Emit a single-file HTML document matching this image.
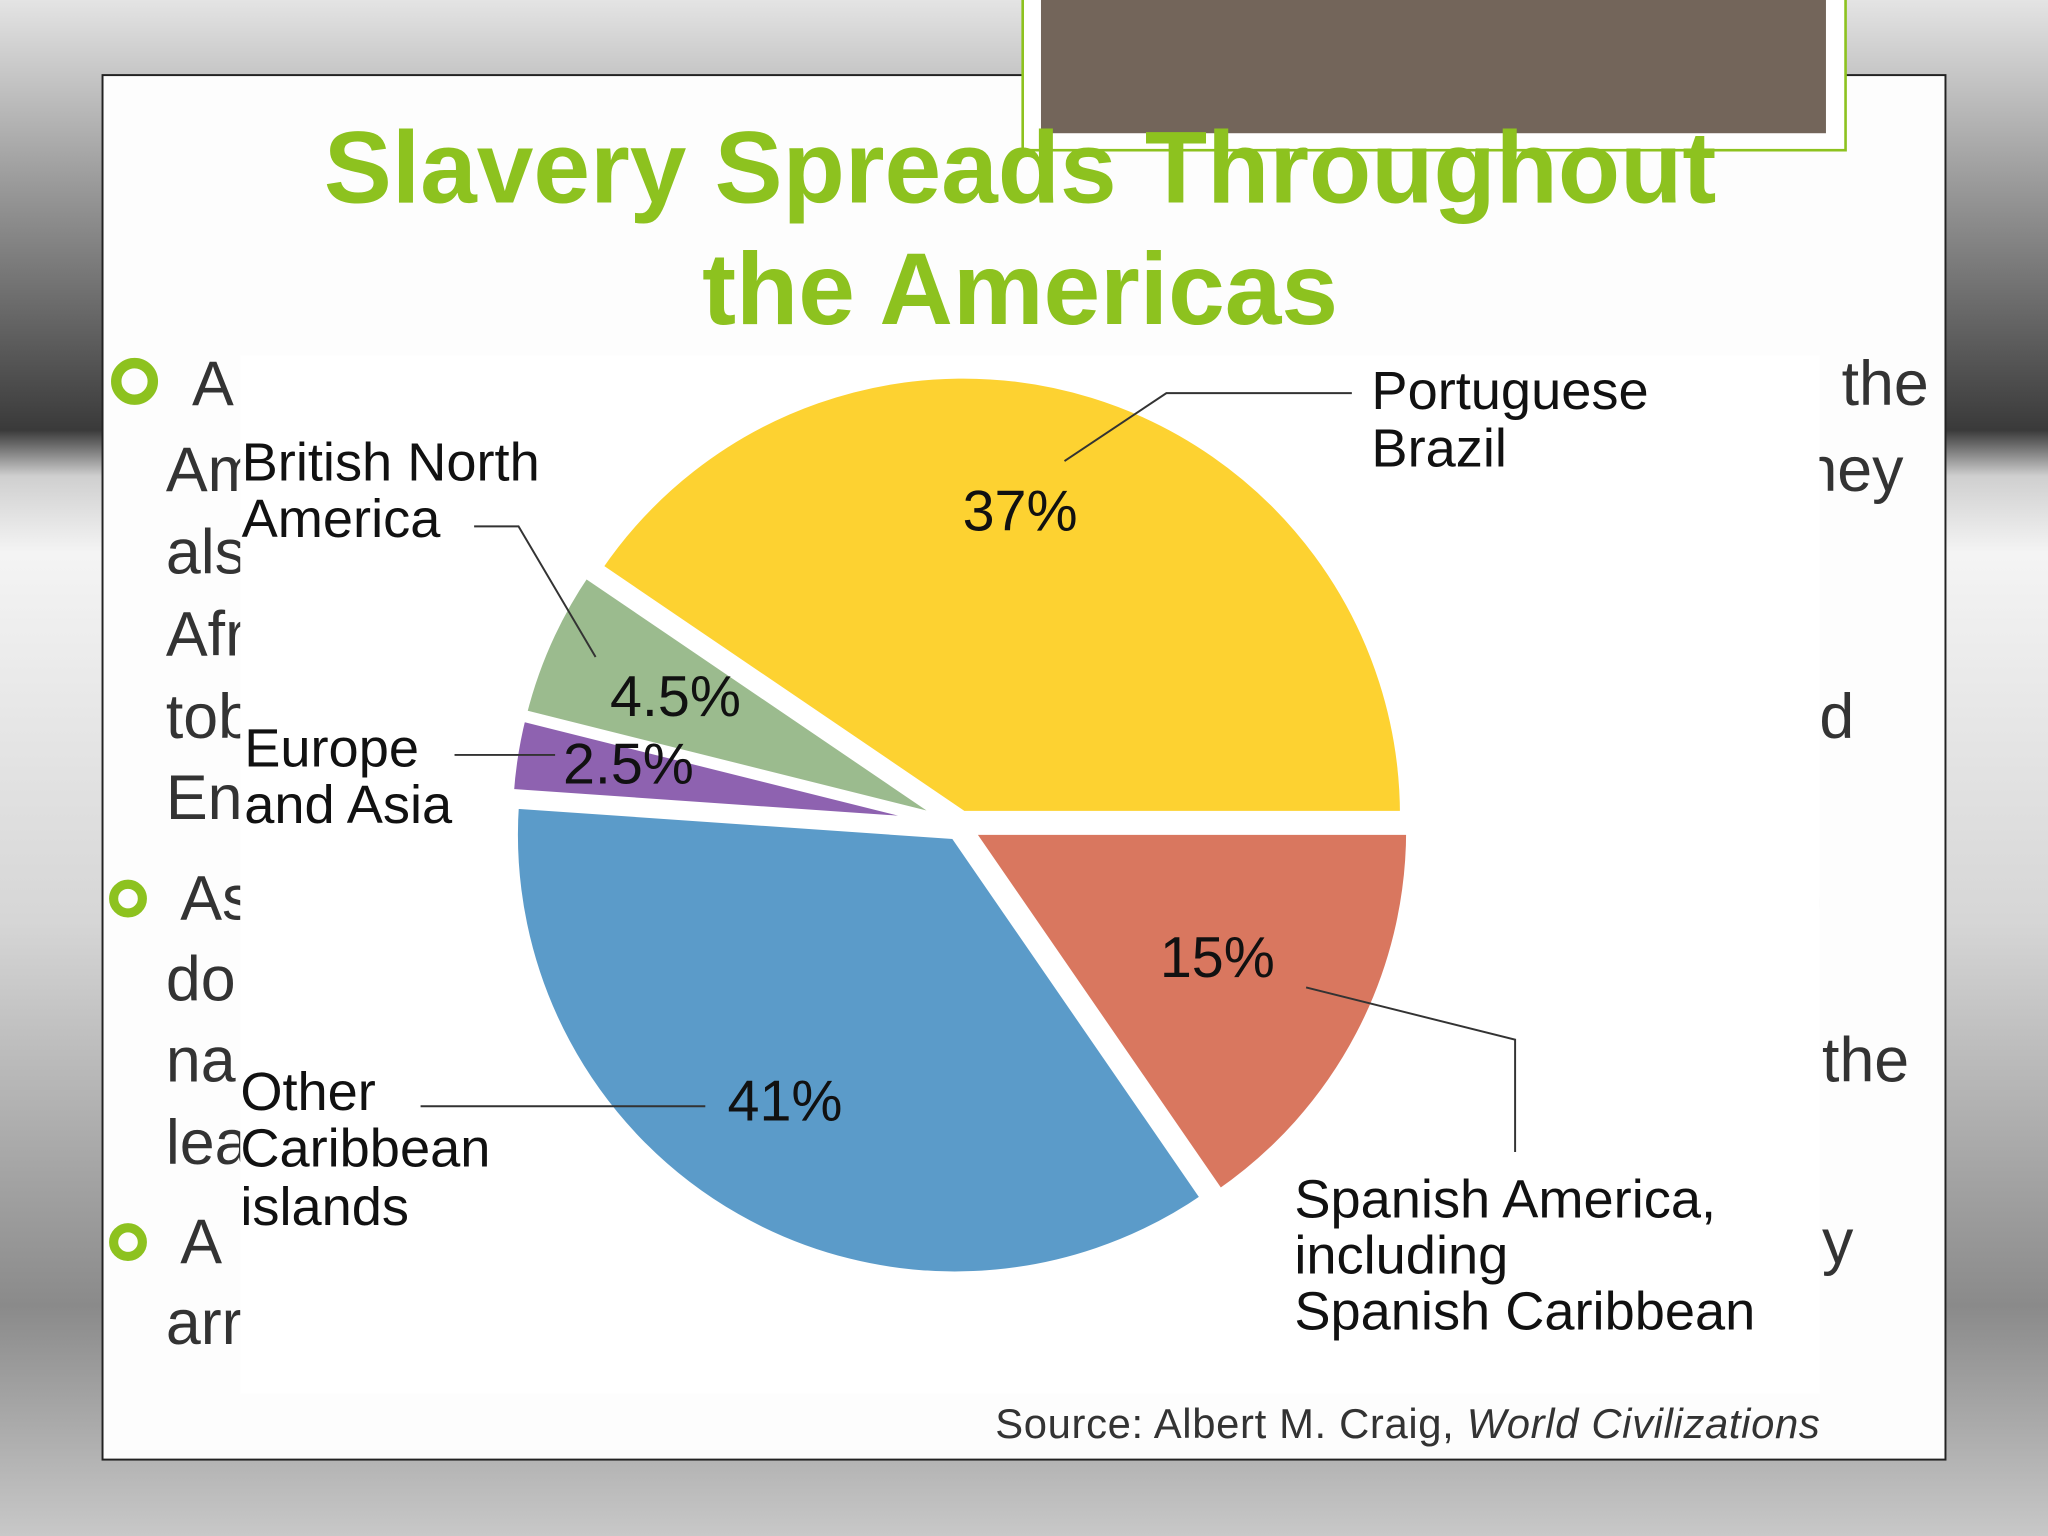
<!DOCTYPE html>
<html><head><meta charset="utf-8"><style>
html,body{margin:0;padding:0;width:2048px;height:1536px;overflow:hidden;}
svg{display:block;font-family:"Liberation Sans",sans-serif;}
</style></head><body>
<svg width="2048" height="1536" viewBox="0 0 1568 1176" xmlns="http://www.w3.org/2000/svg">
<defs>
<linearGradient id="bg" x1="0" y1="0" x2="0" y2="1">
<stop offset="0" stop-color="#e4e4e4"/><stop offset="0.12" stop-color="#9a9a9a"/>
<stop offset="0.28" stop-color="#3a3a3a"/><stop offset="0.31" stop-color="#cfcfcf"/>
<stop offset="0.36" stop-color="#f4f4f4"/><stop offset="0.6" stop-color="#d6d6d6"/>
<stop offset="0.85" stop-color="#8a8a8a"/><stop offset="1" stop-color="#c8c8c8"/>
</linearGradient>
<clipPath id="leftclip"><rect x="80" y="250" width="104" height="820"/></clipPath>
<clipPath id="rightclip"><rect x="1393" y="250" width="96" height="820"/></clipPath>
</defs>
<rect width="1568" height="1176" fill="url(#bg)"/>
<rect x="78.5" y="57.5" width="1411" height="1060" fill="#fdfdfd" stroke="#222" stroke-width="1.5"/>
<rect x="783" y="-5" width="630" height="120" fill="#fff" stroke="#8dc21f" stroke-width="2"/>
<rect x="797" y="0" width="601" height="102" fill="#73655a"/>
<g fill="#8dc21f" font-weight="bold" font-size="78" text-anchor="middle">
<text x="781" y="155">Slavery Spreads Throughout</text>
<text x="781" y="248">the Americas</text>
</g>
<g clip-path="url(#leftclip)" font-size="48" fill="#333">
<circle cx="103" cy="292" r="14" fill="none" stroke="#8dc21f" stroke-width="8"/>
<circle cx="98" cy="688" r="11" fill="none" stroke="#8dc21f" stroke-width="7"/>
<circle cx="98" cy="951" r="11" fill="none" stroke="#8dc21f" stroke-width="7"/>
<text x="147" y="310">A</text><text x="127" y="376">Am</text><text x="127" y="439">als</text>
<text x="127" y="502">Afr</text><text x="127" y="565">tob</text><text x="127" y="627">Eng</text>
<text x="138" y="704">As</text><text x="127" y="766">do</text><text x="127" y="828">na</text>
<text x="127" y="891">lea</text><text x="138" y="967">A</text><text x="127" y="1029">arr</text>
</g>
<g clip-path="url(#rightclip)" font-size="48" fill="#333">
<text x="1410" y="310">the</text><text x="1380" y="376">hey</text><text x="1393" y="565">d</text>
<text x="1380" y="704">)</text><text x="1395" y="828">the</text><text x="1395" y="967">y</text>
</g>
<rect x="184" y="272" width="1209" height="795" fill="#fff"/>
<g id="pie"></g>
<g fill="none" stroke="#333" stroke-width="1.5">
<polyline points="815,353 893,301 1035,301"/>
<polyline points="363,403 397,403 456,503"/>
<polyline points="348,578 425,578"/>
<polyline points="322,847 540,847"/>
<polyline points="1000,756 1160,796 1160,882"/>
</g>
<g font-size="44" fill="#111">
<text id="lbl0" x="888" y="748"></text>
<text id="lbl1" x="557" y="858"></text>
<text id="lbl2" x="431" y="600"></text>
<text id="lbl3" x="467" y="548"></text>
<text id="lbl4" x="737" y="406"></text>
</g>
<g font-size="41.5" fill="#111">
<text x="1050" y="313">Portuguese</text><text x="1050" y="357">Brazil</text>
<text x="185" y="368">British North</text><text x="185" y="411">America</text>
<text x="187" y="587">Europe</text><text x="187" y="630">and Asia</text>
<text x="184" y="850">Other</text><text x="184" y="893">Caribbean</text><text x="184" y="938">islands</text>
<text x="991" y="932">Spanish America,</text><text x="991" y="975">including</text><text x="991" y="1018">Spanish Caribbean</text>
</g>
<text x="762" y="1101" font-size="32" fill="#333" letter-spacing="0.5">Source: Albert M. Craig, <tspan font-style="italic">World Civilizations</tspan></text>
</svg>
<script>
const categories = ["Spanish America", "Other Caribbean islands", "Europe and Asia", "British North America", "Portuguese Brazil"];
const values = [15.4, 35.7, 2.8, 5.6, 40.5];
const pctLabels = ["15%", "41%", "2.5%", "4.5%", "37%"];
const colors = ["#d9775f", "#5b9bc9", "#8e62b0", "#9bbb8e", "#fdd231"];
const cx = 735, cy = 632, R = 338, explode = 8;
const g = document.getElementById('pie');
const total = values.reduce((a,b)=>a+b,0);
let a0 = 0;
values.forEach((v,i)=>{
  const a1 = a0 + v/total*2*Math.PI;
  const mid = (a0+a1)/2;
  const ox = cx + explode*Math.cos(mid), oy = cy + explode*Math.sin(mid);
  const x0 = ox + R*Math.cos(a0), y0 = oy + R*Math.sin(a0);
  const x1 = ox + R*Math.cos(a1), y1 = oy + R*Math.sin(a1);
  const large = (a1-a0) > Math.PI ? 1 : 0;
  const p = document.createElementNS('http://www.w3.org/2000/svg','path');
  p.setAttribute('d', `M${ox},${oy} L${x0},${y0} A${R},${R} 0 ${large} 1 ${x1},${y1} Z`);
  p.setAttribute('fill', colors[i]);
  p.setAttribute('stroke', '#fff');
  p.setAttribute('stroke-width', '7');
  p.setAttribute('stroke-linejoin', 'round');
  
  
  g.appendChild(p);
  document.getElementById('lbl'+i).textContent = pctLabels[i];
  a0 = a1;
});
</script>
</body></html>
